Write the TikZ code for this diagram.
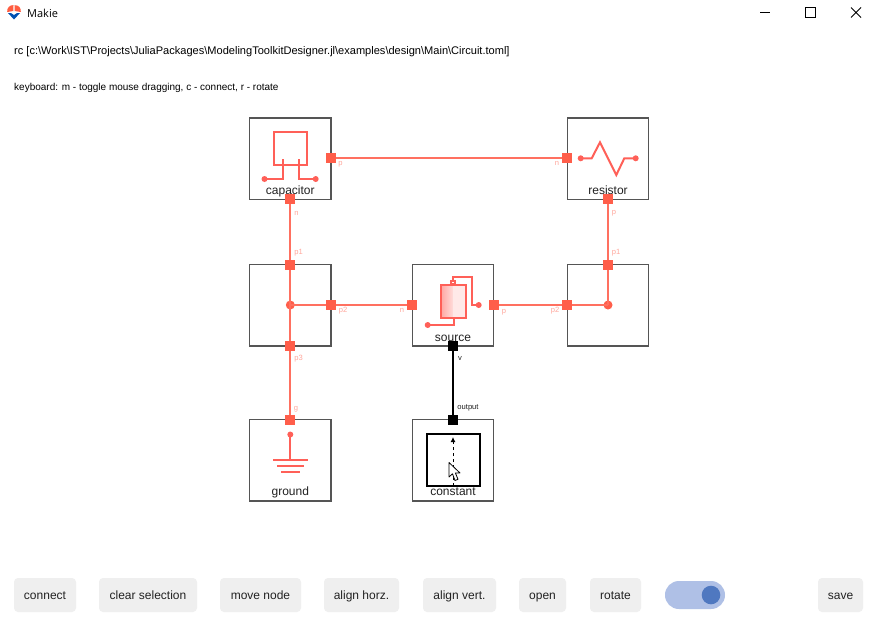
\documentclass[tikz,border=0pt]{standalone}
\usepackage{fontspec}
\setmainfont{Liberation Sans}
\newfontfamily\uifont{Open Sans}
\usetikzlibrary{arrows.meta}
\definecolor{wirec}{HTML}{FF7060}
\definecolor{portc}{HTML}{FF5E4A}
\definecolor{iconc}{HTML}{FF6058}
\definecolor{boxc}{HTML}{555555}
\definecolor{btnc}{HTML}{EFEFEF}
\definecolor{textc}{HTML}{222222}
\definecolor{plabc}{HTML}{FFA79C}
\definecolor{togc}{HTML}{AFC0E6}
\definecolor{knobc}{HTML}{4F78C0}
\tikzset{
  x=1pt,y=-1pt,
  block/.style={draw=boxc,line width=1.2pt,fill=white,minimum width=81.5pt,minimum height=81.5pt,inner sep=0pt,outer sep=0pt},
  port/.style={fill=portc,minimum size=10pt,inner sep=0pt,outer sep=0pt},
  bport/.style={fill=black,minimum size=10pt,inner sep=0pt,outer sep=0pt},
  wire/.style={draw=wirec,line width=2pt},
  bwire/.style={draw=black,line width=2pt},
  dotn/.style={circle,fill=portc,minimum size=9pt,inner sep=0pt,outer sep=0pt},
  icon/.style={draw=iconc,line width=2pt,line join=miter},
  idot/.style={circle,fill=iconc,minimum size=6pt,inner sep=0pt,outer sep=0pt},
  blabel/.style={font=\fontsize{12}{12}\selectfont,text=textc,inner sep=0pt,text height=8.6pt,text depth=2.5pt},
  plabel/.style={font=\fontsize{7.6}{8}\selectfont,text=plabc,inner sep=0pt,text height=5.5pt,text depth=1.5pt},
  klabel/.style={font=\fontsize{7.6}{8}\selectfont,text=textc,inner sep=0pt,text height=5.5pt,text depth=1.5pt},
  btn/.style={fill=btnc,rounded corners=4pt,minimum height=34pt,inner sep=0pt,font=\fontsize{12}{12}\selectfont,text=textc,text height=10.6pt,text depth=2.5pt},
  toplabel/.style={anchor=west,inner sep=0pt,text=black}
}
\begin{document}
\begin{tikzpicture}
\useasboundingbox[fill=white] (0,0) rectangle (876,622);
% window chrome
\fill[red!70!orange!75!white] (14,5) .. controls (9,5) and (7,8) .. (7.2,12) -- (13.3,11) -- (13.3,5.2) -- cycle;
\fill[red!70!orange!75!white] (14.7,5.2) .. controls (19,5) and (21,8) .. (20.8,12) -- (14.7,11) -- cycle;
\fill[blue!55!cyan!70!black] (8,13) -- (11,13) -- (14,15) -- (17,13) -- (20,13) -- (14,19.5) -- cycle;
\node[toplabel,font=\uifont\fontsize{11}{12}\selectfont] (wintitle) at (27,13) {Makie};
\draw[black,line width=1pt] (760,12.2) -- (770,12.2);
\draw[black,line width=1pt] (805.5,7.5) rectangle (815,17);
\draw[black,line width=1pt] (851,7.5) -- (861,17.5) (861,7.5) -- (851,17.5);
\node[toplabel,font=\fontsize{11.05}{11}\selectfont] (pathline) at (14,52) {rc [c:\textbackslash Work\textbackslash IST\textbackslash Projects\textbackslash JuliaPackages\textbackslash ModelingToolkitDesigner.jl\textbackslash examples\textbackslash design\textbackslash Main\textbackslash Circuit.toml]};
\node[toplabel,font=\fontsize{10}{10}\selectfont] (keys) at (14,88) {keyboard: m - toggle mouse dragging, c - connect, r - rotate};
% blocks
\node[block] (cap) at (290.3,158.8) {};
\node[block] (res) at (608,158.8) {};
\node[block] (jl) at (290.3,305.3) {};
\node[block] (src) at (453,305.3) {};
\node[block] (jr) at (608,305.3) {};
\node[block] (gnd) at (290.3,460.3) {};
\node[block] (con) at (453,460.3) {};
% capacitor icon
\draw[icon] (273.5,132) rectangle (307,165);
\draw[icon] (282.5,159) -- (282.5,179) -- (264.5,179);
\draw[icon] (298.5,159) -- (298.5,179) -- (315.5,179);
\node[idot] (capa) at (264.5,179) {};
\node[idot] (capb) at (315.7,179) {};
% resistor icon
\draw[icon] (580.7,158.3) -- (591.7,158.3) -- (600,142.3) -- (616.3,175) -- (624.3,158.3) -- (635.7,158.3);
\node[idot] (resa) at (580.7,158.3) {};
\node[idot] (resb) at (635.7,158.3) {};
% source icon
\shade[left color=iconc!55,right color=iconc!22] (441,284.5) rectangle (453,318);
\fill[iconc!14] (453,284.5) rectangle (465.5,318);
\draw[icon] (441,284.5) rectangle (465.5,318);
\draw[icon] (450.5,284) rectangle (455,281);
\draw[icon] (453,281) -- (453,277) -- (472,277) -- (472,305) -- (478.7,305);
\draw[icon] (453.7,318) -- (453.7,325) -- (427.7,325);
\node[idot] (srca) at (478.7,305) {};
\node[idot] (srcb) at (427.7,325) {};
% ground icon
\draw[icon] (290.3,434.5) -- (290.3,460);
\draw[icon] (273.3,460) -- (307.7,460) (277,466) -- (303.7,466) (281,472) -- (299.5,472);
\node[idot] (gnda) at (290.3,434.5) {};
% constant icon
\draw[black,line width=2pt] (427,434) rectangle (480,486);
\draw[black,line width=1pt,dashed,-{Latex[length=5pt,width=5pt]}] (453,486) -- (453,437);
% block labels
\node[blabel] (lcap) at (290.3,191) {capacitor};
\node[blabel] (lres) at (608,191) {resistor};
\node[blabel] (lsrc) at (453,338) {source};
\node[blabel] (lgnd) at (290.3,492.5) {ground};
\node[blabel] (lcon) at (453,492.5) {constant};
% mouse pointer
\draw[black,fill=white,line width=.8pt,line join=round] (449,462.5) -- (449,477) -- (452.5,473.8) -- (455,480.5) -- (458,479.3) -- (455.4,473) -- (460,473) -- cycle;
% ports
\node[port] (capp) at (331,158) {};
\node[port] (capn) at (290.3,199) {};
\node[port] (resn) at (567,158) {};
\node[port] (resp) at (608,199) {};
\node[port] (jlp1) at (290.3,264.5) {};
\node[port] (jlp2) at (331,305) {};
\node[port] (jlp3) at (290.3,346) {};
\node[port] (srcn) at (412.3,305) {};
\node[port] (srcp) at (494,305) {};
\node[bport] (srcv) at (453,346) {};
\node[port] (jrp1) at (608,264.5) {};
\node[port] (jrp2) at (567,305) {};
\node[port] (gndg) at (290.3,419.5) {};
\node[bport] (conout) at (453,419.5) {};
\node[dotn] (jld) at (290.3,305) {};
\node[dotn] (jrd) at (608,305) {};
% connectors
\draw[wire] (capp.east) -- (resn.west);
\draw[wire] (capn.south) -- (jlp1.north);
\draw[wire] (resp.south) -- (jrp1.north);
\draw[wire] (jlp1.south) -- (jld.center);
\draw[wire] (jld.center) -- (jlp3.north);
\draw[wire] (jld.center) -- (jlp2.west);
\draw[wire] (jlp2.east) -- (srcn.west);
\draw[wire] (srcp.east) -- (jrp2.west);
\draw[wire] (jrp2.east) -- (jrd.center);
\draw[wire] (jrp1.south) -- (jrd.center);
\draw[wire] (jlp3.south) -- (gndg.north);
\draw[bwire] (srcv.south) -- (conout.north);
% port labels
\node[plabel] (t1) at (340.5,163) {p};
\node[plabel] (t2) at (296.5,213) {n};
\node[plabel] (t3) at (557,163) {n};
\node[plabel] (t4) at (614,212) {p};
\node[plabel] (t5) at (298.5,252) {p1};
\node[plabel] (t6) at (343,310) {p2};
\node[plabel] (t7) at (298.5,358) {p3};
\node[plabel] (t8) at (402,310) {n};
\node[plabel] (t9) at (504,311) {p};
\node[plabel] (t10) at (616,252) {p1};
\node[plabel] (t11) at (555,310) {p2};
\node[plabel] (t12) at (296,408) {g};
\node[klabel] (t13) at (460,358) {v};
\node[klabel] (t14) at (468,407) {output};
% buttons
\node[btn,minimum width=62pt] (b1) at (45,595) {connect};
\node[btn,minimum width=98pt] (b2) at (148,595) {clear selection};
\node[btn,minimum width=81pt] (b3) at (260.5,595) {move node};
\node[btn,minimum width=75pt] (b4) at (361.5,595) {align horz.};
\node[btn,minimum width=73pt] (b5) at (459.5,595) {align vert.};
\node[btn,minimum width=47pt] (b6) at (542.5,595) {open};
\node[btn,minimum width=51pt] (b7) at (615.5,595) {rotate};
\node[btn,minimum width=45pt] (b8) at (840.5,595) {save};
% toggle
\fill[togc,rounded corners=13.9pt] (665,581) rectangle (725,609);
\fill[knobc] (711,595) circle (9.3);
\end{tikzpicture}
\end{document}
